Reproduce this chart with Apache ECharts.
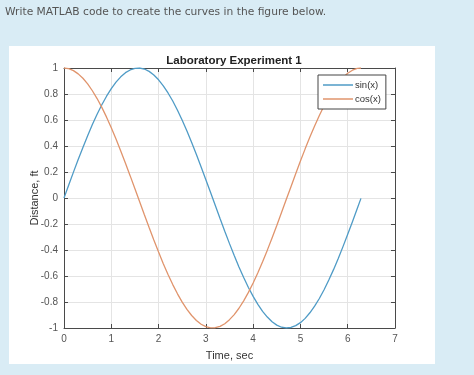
<!DOCTYPE html>
<html><head><meta charset="utf-8">
<script src="https://cdn.jsdelivr.net/npm/echarts@6/dist/echarts.min.js"></script>
<style>html,body{margin:0;padding:0;background:#d9ecf5;}#c{width:474px;height:375px;}</style>
</head><body><div id="c"></div>
<script>
const xVals = [0.0,0.1,0.2,0.3,0.4,0.5,0.6,0.7,0.8,0.9,1.0,1.1,1.2,1.3,1.4,1.5,1.6,1.7,1.8,1.9,2.0,2.1,2.2,2.3,2.4,2.5,2.6,2.7,2.8,2.9,3.0,3.1,3.2,3.3,3.4,3.5,3.6,3.7,3.8,3.9,4.0,4.1,4.2,4.3,4.4,4.5,4.6,4.7,4.8,4.9,5.0,5.1,5.2,5.3,5.4,5.5,5.6,5.7,5.8,5.9,6.0,6.1,6.2,6.28];
const sinVals = [0.000,0.100,0.199,0.296,0.389,0.479,0.565,0.644,0.717,0.783,0.841,0.891,0.932,0.964,0.985,0.997,1.000,0.992,0.974,0.946,0.909,0.863,0.808,0.746,0.675,0.598,0.516,0.427,0.335,0.239,0.141,0.042,-0.058,-0.158,-0.256,-0.351,-0.443,-0.530,-0.612,-0.688,-0.757,-0.818,-0.872,-0.916,-0.952,-0.978,-0.994,-1.000,-0.996,-0.982,-0.959,-0.926,-0.883,-0.832,-0.773,-0.706,-0.631,-0.551,-0.465,-0.374,-0.279,-0.182,-0.083,-0.003];
const cosVals = [1.000,0.995,0.980,0.955,0.921,0.878,0.825,0.765,0.697,0.622,0.540,0.454,0.362,0.267,0.170,0.071,-0.029,-0.129,-0.227,-0.323,-0.416,-0.505,-0.589,-0.666,-0.737,-0.801,-0.857,-0.904,-0.942,-0.971,-0.990,-0.999,-0.998,-0.987,-0.967,-0.936,-0.897,-0.848,-0.791,-0.726,-0.654,-0.575,-0.490,-0.401,-0.307,-0.211,-0.112,-0.012,0.087,0.187,0.284,0.378,0.469,0.554,0.635,0.709,0.776,0.835,0.886,0.927,0.960,0.983,0.997,1.000];
const seriesNames = ['sin(x)','cos(x)'];
const titleText = 'Laboratory Experiment 1';
const headerText = 'Write MATLAB code to create the curves in the figure below.';
const xName = 'Time, sec';
const yName = 'Distance, ft';

const chart = echarts.init(document.getElementById('c'), null, {renderer:'canvas'});
const font = 'Liberation Sans, Arial, sans-serif';
const axisCol = '#4a4a4a';
const gridCol = '#e4e4e4';
function pairs(ys){ return xVals.map((x,i)=>[x, ys[i]]); }
const baseX = {type:'value', min:0, max:7, interval:1,
  axisLine:{show:true, onZero:false, lineStyle:{color:axisCol, width:1}},
  axisTick:{show:true, inside:true, length:4, lineStyle:{color:axisCol}},
  splitLine:{show:false}};
const baseY = {type:'value', min:-1, max:1, interval:0.2,
  axisLine:{show:true, onZero:false, lineStyle:{color:axisCol, width:1}},
  axisTick:{show:true, inside:true, length:4, lineStyle:{color:axisCol}},
  splitLine:{show:false}};
chart.setOption({
  backgroundColor:'#d9ecf5',
  animation:false,
  graphic:[
    {type:'rect', shape:{x:9, y:46, width:426, height:318}, style:{fill:'#ffffff'}, z:-10},
    {type:'text', left:5, top:7, style:{text:headerText, font:'10.7px DejaVu Sans, Verdana, sans-serif', fill:'#555'}}
  ],
  title:{text:titleText, left:229, top:50, textAlign:'center',
    textStyle:{fontFamily:font, fontSize:11.5, fontWeight:'bold', color:'#222'}},
  legend:{orient:'vertical', left:318, top:75, data:seriesNames,
    icon:'rect', itemWidth:30, itemHeight:1.5, itemGap:4,
    padding:[5,5,5,5], borderColor:'#444', borderWidth:1, backgroundColor:'#fff',
    textStyle:{fontFamily:font, fontSize:9.5, color:'#333', padding:[0,0,0,-3]}},
  grid:{left:64, right:79, top:68, bottom:47, containLabel:false},
  xAxis:[
    Object.assign({}, baseX, {position:'bottom', name:xName, nameLocation:'middle', nameGap:22,
      nameMoveOverlap:false,
      nameTextStyle:{fontFamily:font, fontSize:11, color:'#333'},
      axisLabel:{fontFamily:font, fontSize:10, color:'#555', margin:6},
      splitLine:{show:true, lineStyle:{color:gridCol, width:1}}}),
    Object.assign({}, baseX, {position:'top', axisLabel:{show:false}})
  ],
  yAxis:[
    Object.assign({}, baseY, {position:'left', name:yName, nameLocation:'middle', nameGap:24,
      nameMoveOverlap:false,
      nameTextStyle:{fontFamily:font, fontSize:11, color:'#333'},
      axisLabel:{fontFamily:font, fontSize:10, color:'#555', margin:6},
      splitLine:{show:true, lineStyle:{color:gridCol, width:1}}}),
    Object.assign({}, baseY, {position:'right', axisLabel:{show:false}})
  ],
  series:[
    {name:seriesNames[0], type:'line', data:pairs(sinVals), showSymbol:false, smooth:false,
      lineStyle:{color:'#4f9bc6', width:1.3}, itemStyle:{color:'#4f9bc6'}},
    {name:seriesNames[1], type:'line', data:pairs(cosVals), showSymbol:false, smooth:false,
      lineStyle:{color:'#e0946c', width:1.3}, itemStyle:{color:'#e0946c'}}
  ]
});
</script></body></html>
